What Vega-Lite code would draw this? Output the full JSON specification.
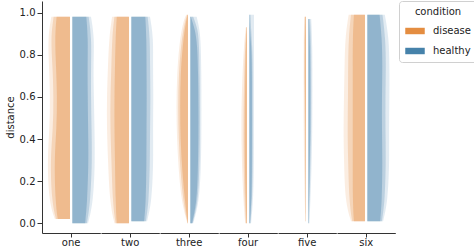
{
  "$schema": "https://vega.github.io/schema/vega-lite/v6.json",
  "padding": {"left": 5, "top": 0, "right": 0, "bottom": 0},
  "data": {"values": [
    {"c":"one","g":"disease","y":0.02,"a":0.56,"b":0.52,"k":0.46},
    {"c":"one","g":"disease","y":0.10,"a":0.76,"b":0.66,"k":0.54},
    {"c":"one","g":"disease","y":0.30,"a":0.82,"b":0.72,"k":0.58},
    {"c":"one","g":"disease","y":0.45,"a":0.74,"b":0.62,"k":0.50},
    {"c":"one","g":"disease","y":0.60,"a":0.72,"b":0.60,"k":0.48},
    {"c":"one","g":"disease","y":0.75,"a":0.76,"b":0.64,"k":0.52},
    {"c":"one","g":"disease","y":0.88,"a":0.80,"b":0.70,"k":0.56},
    {"c":"one","g":"disease","y":0.98,"a":0.68,"b":0.60,"k":0.50},
    {"c":"one","g":"healthy","y":0.00,"a":0.58,"b":0.54,"k":0.48},
    {"c":"one","g":"healthy","y":0.10,"a":0.76,"b":0.66,"k":0.55},
    {"c":"one","g":"healthy","y":0.30,"a":0.82,"b":0.72,"k":0.60},
    {"c":"one","g":"healthy","y":0.45,"a":0.80,"b":0.70,"k":0.58},
    {"c":"one","g":"healthy","y":0.60,"a":0.78,"b":0.68,"k":0.57},
    {"c":"one","g":"healthy","y":0.75,"a":0.76,"b":0.68,"k":0.56},
    {"c":"one","g":"healthy","y":0.88,"a":0.80,"b":0.70,"k":0.58},
    {"c":"one","g":"healthy","y":0.98,"a":0.68,"b":0.60,"k":0.52},
    {"c":"two","g":"disease","y":0.00,"a":0.54,"b":0.50,"k":0.46},
    {"c":"two","g":"disease","y":0.10,"a":0.70,"b":0.60,"k":0.50},
    {"c":"two","g":"disease","y":0.30,"a":0.76,"b":0.64,"k":0.52},
    {"c":"two","g":"disease","y":0.45,"a":0.80,"b":0.68,"k":0.54},
    {"c":"two","g":"disease","y":0.60,"a":0.80,"b":0.68,"k":0.54},
    {"c":"two","g":"disease","y":0.75,"a":0.76,"b":0.64,"k":0.52},
    {"c":"two","g":"disease","y":0.88,"a":0.72,"b":0.62,"k":0.50},
    {"c":"two","g":"disease","y":0.98,"a":0.62,"b":0.54,"k":0.46},
    {"c":"two","g":"healthy","y":0.01,"a":0.58,"b":0.54,"k":0.48},
    {"c":"two","g":"healthy","y":0.10,"a":0.74,"b":0.64,"k":0.54},
    {"c":"two","g":"healthy","y":0.30,"a":0.80,"b":0.68,"k":0.56},
    {"c":"two","g":"healthy","y":0.45,"a":0.78,"b":0.68,"k":0.56},
    {"c":"two","g":"healthy","y":0.60,"a":0.80,"b":0.70,"k":0.57},
    {"c":"two","g":"healthy","y":0.75,"a":0.78,"b":0.68,"k":0.56},
    {"c":"two","g":"healthy","y":0.88,"a":0.80,"b":0.68,"k":0.56},
    {"c":"two","g":"healthy","y":0.98,"a":0.68,"b":0.60,"k":0.52},
    {"c":"three","g":"disease","y":0.00,"a":0.06,"b":0.055,"k":0.05},
    {"c":"three","g":"disease","y":0.10,"a":0.26,"b":0.20,"k":0.14},
    {"c":"three","g":"disease","y":0.25,"a":0.36,"b":0.30,"k":0.24},
    {"c":"three","g":"disease","y":0.40,"a":0.42,"b":0.36,"k":0.30},
    {"c":"three","g":"disease","y":0.55,"a":0.44,"b":0.38,"k":0.31},
    {"c":"three","g":"disease","y":0.70,"a":0.42,"b":0.36,"k":0.30},
    {"c":"three","g":"disease","y":0.85,"a":0.34,"b":0.28,"k":0.22},
    {"c":"three","g":"disease","y":0.95,"a":0.22,"b":0.16,"k":0.12},
    {"c":"three","g":"disease","y":0.99,"a":0.10,"b":0.07,"k":0.05},
    {"c":"three","g":"healthy","y":0.00,"a":0.14,"b":0.12,"k":0.10},
    {"c":"three","g":"healthy","y":0.10,"a":0.34,"b":0.30,"k":0.26},
    {"c":"three","g":"healthy","y":0.25,"a":0.40,"b":0.35,"k":0.30},
    {"c":"three","g":"healthy","y":0.40,"a":0.42,"b":0.37,"k":0.32},
    {"c":"three","g":"healthy","y":0.55,"a":0.42,"b":0.37,"k":0.32},
    {"c":"three","g":"healthy","y":0.70,"a":0.42,"b":0.36,"k":0.31},
    {"c":"three","g":"healthy","y":0.85,"a":0.40,"b":0.34,"k":0.28},
    {"c":"three","g":"healthy","y":0.92,"a":0.36,"b":0.30,"k":0.20},
    {"c":"three","g":"healthy","y":0.98,"a":0.26,"b":0.14,"k":0.06},
    {"c":"four","g":"disease","y":0.00,"a":0.10,"b":0.08,"k":0.06},
    {"c":"four","g":"disease","y":0.10,"a":0.16,"b":0.12,"k":0.08},
    {"c":"four","g":"disease","y":0.30,"a":0.22,"b":0.16,"k":0.12},
    {"c":"four","g":"disease","y":0.50,"a":0.24,"b":0.16,"k":0.12},
    {"c":"four","g":"disease","y":0.70,"a":0.20,"b":0.14,"k":0.10},
    {"c":"four","g":"disease","y":0.85,"a":0.14,"b":0.10,"k":0.08},
    {"c":"four","g":"disease","y":0.93,"a":0.08,"b":0.06,"k":0.05},
    {"c":"four","g":"healthy","y":0.00,"a":0.10,"b":0.08,"k":0.06},
    {"c":"four","g":"healthy","y":0.12,"a":0.18,"b":0.14,"k":0.12},
    {"c":"four","g":"healthy","y":0.30,"a":0.20,"b":0.16,"k":0.13},
    {"c":"four","g":"healthy","y":0.50,"a":0.20,"b":0.16,"k":0.13},
    {"c":"four","g":"healthy","y":0.70,"a":0.20,"b":0.16,"k":0.13},
    {"c":"four","g":"healthy","y":0.82,"a":0.20,"b":0.15,"k":0.12},
    {"c":"four","g":"healthy","y":0.92,"a":0.20,"b":0.10,"k":0.06},
    {"c":"four","g":"healthy","y":0.99,"a":0.20,"b":0.08,"k":0.05},
    {"c":"five","g":"disease","y":0.01,"a":0.06,"b":0.05,"k":0.045},
    {"c":"five","g":"disease","y":0.20,"a":0.10,"b":0.07,"k":0.05},
    {"c":"five","g":"disease","y":0.45,"a":0.12,"b":0.08,"k":0.06},
    {"c":"five","g":"disease","y":0.66,"a":0.12,"b":0.10,"k":0.08},
    {"c":"five","g":"disease","y":0.85,"a":0.12,"b":0.10,"k":0.08},
    {"c":"five","g":"disease","y":0.98,"a":0.10,"b":0.08,"k":0.06},
    {"c":"five","g":"healthy","y":0.00,"a":0.08,"b":0.06,"k":0.05},
    {"c":"five","g":"healthy","y":0.20,"a":0.14,"b":0.10,"k":0.08},
    {"c":"five","g":"healthy","y":0.45,"a":0.18,"b":0.14,"k":0.11},
    {"c":"five","g":"healthy","y":0.65,"a":0.18,"b":0.14,"k":0.11},
    {"c":"five","g":"healthy","y":0.85,"a":0.18,"b":0.14,"k":0.10},
    {"c":"five","g":"healthy","y":0.97,"a":0.14,"b":0.10,"k":0.06},
    {"c":"six","g":"disease","y":0.01,"a":0.52,"b":0.48,"k":0.42},
    {"c":"six","g":"disease","y":0.10,"a":0.72,"b":0.58,"k":0.46},
    {"c":"six","g":"disease","y":0.30,"a":0.76,"b":0.62,"k":0.46},
    {"c":"six","g":"disease","y":0.45,"a":0.78,"b":0.64,"k":0.46},
    {"c":"six","g":"disease","y":0.60,"a":0.76,"b":0.62,"k":0.46},
    {"c":"six","g":"disease","y":0.75,"a":0.74,"b":0.62,"k":0.46},
    {"c":"six","g":"disease","y":0.88,"a":0.72,"b":0.60,"k":0.46},
    {"c":"six","g":"disease","y":0.99,"a":0.60,"b":0.52,"k":0.42},
    {"c":"six","g":"healthy","y":0.01,"a":0.58,"b":0.54,"k":0.48},
    {"c":"six","g":"healthy","y":0.10,"a":0.74,"b":0.64,"k":0.54},
    {"c":"six","g":"healthy","y":0.30,"a":0.80,"b":0.68,"k":0.56},
    {"c":"six","g":"healthy","y":0.45,"a":0.78,"b":0.66,"k":0.54},
    {"c":"six","g":"healthy","y":0.60,"a":0.80,"b":0.66,"k":0.54},
    {"c":"six","g":"healthy","y":0.75,"a":0.80,"b":0.68,"k":0.56},
    {"c":"six","g":"healthy","y":0.88,"a":0.78,"b":0.66,"k":0.54},
    {"c":"six","g":"healthy","y":0.99,"a":0.64,"b":0.56,"k":0.46}
  ]},
  "transform": [{"fold": ["a", "b", "k"], "as": ["lay", "w"]}],
  "facet": {
    "column": {
      "field": "c",
      "type": "nominal",
      "sort": ["one", "two", "three", "four", "five", "six"],
      "title": null,
      "header": {"labelOrient": "bottom", "labelFontSize": 10, "labelPadding": 0, "labelColor": "#222", "labelFont": "DejaVu Sans"}
    }
  },
  "spacing": 0,
  "resolve": {"scale": {"x": "independent"}},
  "spec": {
    "width": 58.3,
    "height": 232,
    "layer": [
      {
        "transform": [{"filter": {"field": "g", "equal": "disease"}}],
        "mark": {"type": "area", "orient": "horizontal", "interpolate": "basis"},
        "encoding": {
          "y": {"field": "y", "type": "quantitative", "scale": {"domain": [-0.046, 1.055], "nice": false, "zero": false},
                "axis": {"title": "distance", "values": [0, 0.2, 0.4, 0.6, 0.8, 1.0], "format": ".1f"}},
          "x": {"field": "w", "type": "quantitative", "scale": {"domain": [-1, 1], "reverse": true, "nice": false, "zero": false}, "axis": null},
          "x2": {"datum": 0.04},
          "color": {"field": "g", "type": "nominal", "scale": {"domain": ["disease", "healthy"], "range": ["#e1812c", "#3274a1"]}, "title": "condition"},
          "opacity": {"field": "lay", "type": "nominal", "scale": {"domain": ["a", "b", "k"], "range": [0.14, 0.3, 0.6]}, "legend": null}
        }
      },
      {
        "transform": [{"filter": {"field": "g", "equal": "healthy"}}],
        "mark": {"type": "area", "orient": "horizontal", "interpolate": "basis"},
        "encoding": {
          "y": {"field": "y", "type": "quantitative"},
          "x": {"field": "w", "type": "quantitative", "scale": {"domain": [-1, 1], "nice": false, "zero": false},
                "axis": {"values": [0], "labels": false, "title": null, "tickSize": 4}},
          "x2": {"datum": 0.04},
          "color": {"field": "g", "type": "nominal"},
          "opacity": {"field": "lay", "type": "nominal", "legend": null}
        }
      }
    ],
    "resolve": {"scale": {"x": "independent"}}
  },
  "config": {
    "font": "DejaVu Sans",
    "view": {"stroke": null},
    "axis": {"grid": false, "domainColor": "#333", "tickColor": "#333", "labelColor": "#222", "titleColor": "#222",
             "labelFontSize": 10, "titleFontSize": 10, "titleFontWeight": "normal", "tickSize": 5, "labelPadding": 2, "titlePadding": 4, "labelFont": "DejaVu Sans", "titleFont": "DejaVu Sans"},
    "legend": {"orient": "right", "offset": 3, "padding": 6, "strokeColor": "#d0d0d0", "cornerRadius": 3,
               "titleFontSize": 10, "titleFontWeight": "normal", "labelFontSize": 10, "titleAnchor": "middle",
               "titleColor": "#222", "labelColor": "#222", "titleFont": "DejaVu Sans", "labelFont": "DejaVu Sans",
               "symbolType": "M-1,-0.33H1V0.33H-1Z", "symbolSize": 380, "symbolStrokeWidth": 0, "symbolOpacity": 0.9,
               "rowPadding": 5, "titlePadding": 4, "labelOffset": 8}
  }
}
